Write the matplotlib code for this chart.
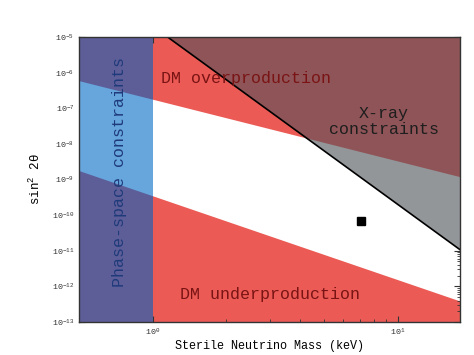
import numpy as np
import matplotlib
matplotlib.use("Agg")
import matplotlib.pyplot as plt
from matplotlib.patches import Polygon, Rectangle
from matplotlib.ticker import LogLocator, LogFormatterSciNotation, NullFormatter

plt.rcParams["font.family"] = ["Liberation Mono", "DejaVu Sans Mono"]
plt.rcParams["mathtext.fontset"] = "custom"
plt.rcParams["mathtext.rm"] = "Liberation Mono"
plt.rcParams["mathtext.it"] = "Liberation Mono"

# ==================================================
# Daten
# ==================================================
x_range = [0.5, 18.0]
y_range = [1e-13, 1e-5]

# Grenzlinien (Endpunkte, log-log gerade)
overprod_x = [0.5, 18.0]
overprod_y = [5.8e-7, 1.17e-9]
underprod_x = [0.5, 18.0]
underprod_y = [1.74e-9, 3.8e-13]
xray_x = [1.15, 18.0]
xray_y = [1e-5, 1.07e-11]
phase_space_max = 1.0

point_x = [7.1]
point_y = [7e-11]

# Farben
c_red = "#eb5a55"
c_brown = "#8e5457"
c_gray = "#939699"
c_purple = "#5d5e98"
c_lightblue = "#66a6dd"

# ==================================================
# Plot
# ==================================================
fig = plt.figure(figsize=(4.74, 3.55), dpi=100)
ax = fig.add_axes([0.1667, 0.093, 0.8038, 0.8028])
ax.set_xscale("log")
ax.set_yscale("log")
ax.set_xlim(x_range)
ax.set_ylim(y_range)

x0, x1 = x_range
y0, y1 = y_range

# Überproduktion (oberhalb der oberen Linie)
over_poly = Polygon([(overprod_x[0], overprod_y[0]), (overprod_x[1], overprod_y[1]),
                     (x1, y1), (x0, y1)], closed=True, fc=c_red, ec="none", zorder=1)
ax.add_patch(over_poly)

# Unterproduktion (unterhalb der unteren Linie)
under_poly = Polygon([(underprod_x[0], underprod_y[0]), (underprod_x[1], underprod_y[1]),
                      (x1, y0), (x0, y0)], closed=True, fc=c_red, ec="none", zorder=1)
ax.add_patch(under_poly)

# Röntgen-Ausschluss: grau über Weiß, braun über Rot
xray_pts = [(xray_x[0], xray_y[0]), (xray_x[1], xray_y[1]), (x1, y1)]
ax.add_patch(Polygon(xray_pts, closed=True, fc=c_gray, ec="none", zorder=2))
brown = Polygon(xray_pts, closed=True, fc=c_brown, ec="none", zorder=3)
ax.add_patch(brown)
brown.set_clip_path(over_poly)

# Phasenraum-Grenze (x < 1 keV)
ax.add_patch(Rectangle((x0, y0), phase_space_max - x0, y1 - y0, fc=c_purple, ec="none", zorder=4))
band = Polygon([(overprod_x[0], overprod_y[0]), (overprod_x[1], overprod_y[1]),
                (underprod_x[1], underprod_y[1]), (underprod_x[0], underprod_y[0])],
               closed=True, fc=c_lightblue, ec="none", zorder=5)
ax.add_patch(band)
clip_rect = Rectangle((x0, y0), phase_space_max - x0, y1 - y0, transform=ax.transData)
band.set_clip_path(clip_rect)

# Röntgen-Linie
ax.plot(xray_x, xray_y, color="black", lw=1.2, zorder=6)

# 7.1 keV Punkt
ax.plot(point_x, point_y, marker="s", ms=6, color="black", ls="none", zorder=7)

# Beschriftungen
ax.text(2.4, 6.8e-7, "DM overproduction", color="#7a1414", fontsize=12,
        ha="center", va="center", zorder=8)
ax.text(3.0, 6e-13, "DM underproduction", color="#7a1414", fontsize=12,
        ha="center", va="center", zorder=8)
ax.text(8.8, 4.2e-8, "X-ray\nconstraints", color="#1e1e1e", fontsize=12,
        ha="center", va="center", linespacing=1.1, zorder=8)
ax.text(0.733, 1.66e-9, "Phase-space constraints", color="#1f3a7a", fontsize=12,
        rotation=90, ha="center", va="center", zorder=8)

ax.set_xlabel("Sterile Neutrino Mass (keV)", fontsize=8.5, labelpad=1)
ax.set_ylabel(r"sin$^2$ 2θ", fontsize=9, labelpad=6)

# Achsen & Ticks
ax.xaxis.set_major_locator(LogLocator(base=10))
ax.xaxis.set_minor_locator(LogLocator(base=10, subs=np.arange(2, 10)))
ax.xaxis.set_minor_formatter(NullFormatter())
ax.yaxis.set_major_locator(LogLocator(base=10, numticks=20))
ax.yaxis.set_minor_locator(LogLocator(base=10, subs=np.arange(2, 10), numticks=20))
ax.yaxis.set_minor_formatter(NullFormatter())
ax.xaxis.set_major_formatter(LogFormatterSciNotation())
ax.yaxis.set_major_formatter(LogFormatterSciNotation())
ax.xaxis.offsetText.set_visible(False)
ax.yaxis.offsetText.set_visible(False)
ax.tick_params(which="both", direction="in", top=True, right=True, colors="#333333",
               labelsize=6, labelcolor="#333333")
ax.tick_params(which="major", length=4, width=0.8)
ax.tick_params(which="minor", length=2, width=0.6)
for s in ax.spines.values():
    s.set_color("#333333")
    s.set_linewidth(1.0)
    s.set_zorder(10)

fig.savefig("out.png", dpi=100)
